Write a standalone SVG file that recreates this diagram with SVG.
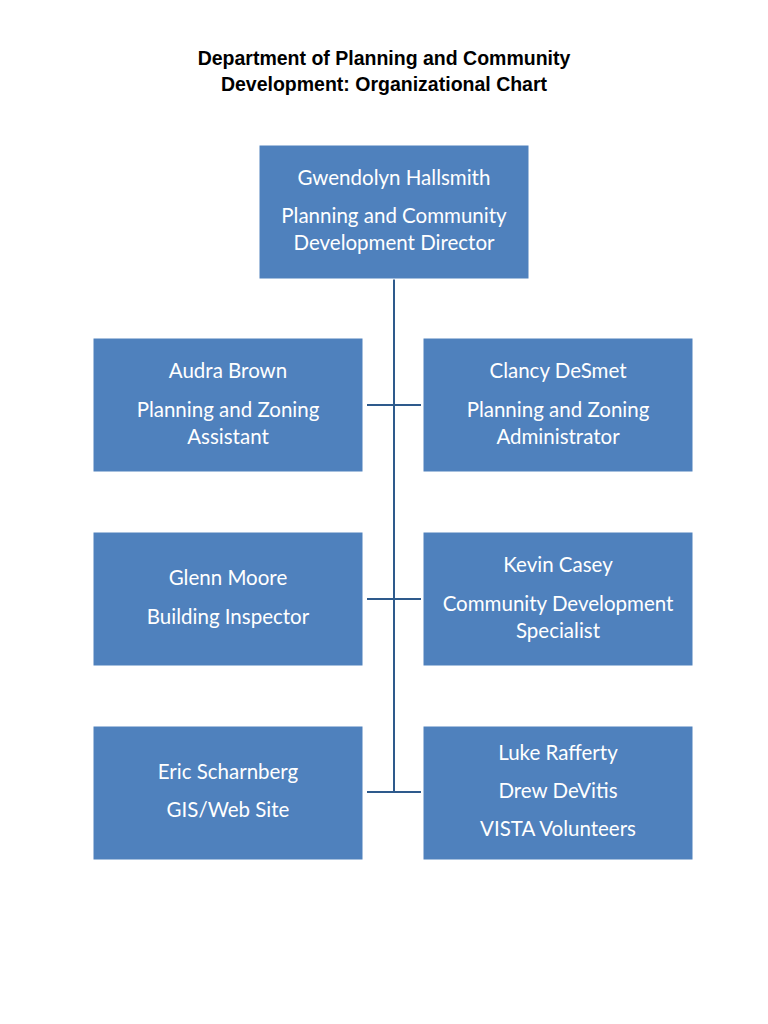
<svg xmlns="http://www.w3.org/2000/svg" width="768" height="1024" viewBox="0 0 768 1024">
<style>
.box{fill:#4F81BD;stroke:#ffffff;stroke-width:1}
.t{font-family:Lato,"Liberation Sans",sans-serif;font-size:20.5px;fill:#fff;text-anchor:middle}
.title{font-family:"Liberation Sans",Arial,sans-serif;font-size:19.5px;font-weight:bold;text-anchor:middle;fill:#000}
.c{stroke:#2E5A8C;stroke-width:2;fill:none}
</style>
<rect width="768" height="1024" fill="#fff"/>
<text class="title" x="384" y="65">Department of Planning and Community</text>
<text class="title" x="384" y="91">Development:  Organizational Chart</text>
<g id="connectors">
<path class="c" d="M394 278V792M367 405H421M367 599H421M367 792H421"/>
</g>
<g id="director"><rect class="box" x="259" y="145" width="270" height="134"/>
<text class="t" x="394" y="185">Gwendolyn Hallsmith</text><text class="t" x="394" y="223">Planning and Community</text><text class="t" x="394" y="250">Development Director</text></g>
<g id="audra"><rect class="box" x="93" y="338" width="270" height="134"/>
<text class="t" x="228" y="378">Audra Brown</text><text class="t" x="228" y="417">Planning and Zoning</text><text class="t" x="228" y="444">Assistant</text></g>
<g id="clancy"><rect class="box" x="423" y="338" width="270" height="134"/>
<text class="t" x="558" y="378">Clancy DeSmet</text><text class="t" x="558" y="417">Planning and Zoning</text><text class="t" x="558" y="444">Administrator</text></g>
<g id="glenn"><rect class="box" x="93" y="532" width="270" height="134"/>
<text class="t" x="228" y="585">Glenn Moore</text><text class="t" x="228" y="624">Building Inspector</text></g>
<g id="kevin"><rect class="box" x="423" y="532" width="270" height="134"/>
<text class="t" x="558" y="572">Kevin Casey</text><text class="t" x="558" y="611">Community Development</text><text class="t" x="558" y="638">Specialist</text></g>
<g id="eric"><rect class="box" x="93" y="726" width="270" height="134"/>
<text class="t" x="228" y="779">Eric Scharnberg</text><text class="t" x="228" y="817">GIS/Web Site</text></g>
<g id="luke"><rect class="box" x="423" y="726" width="270" height="134"/>
<text class="t" x="558" y="760">Luke Rafferty</text><text class="t" x="558" y="798">Drew DeVitis</text><text class="t" x="558" y="836">VISTA Volunteers</text></g>
</svg>
